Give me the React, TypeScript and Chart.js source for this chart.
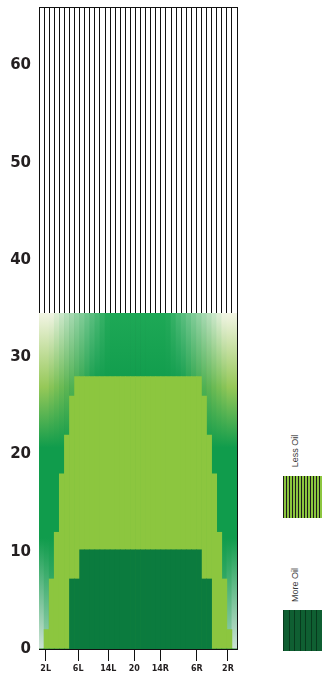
import React, { useEffect, useRef } from 'react';
import { Chart, registerables } from 'chart.js';

Chart.register(...registerables);

// 39 narrow columns across the chart
const columns = [
  '1', '2', '3', '4', '5', '6', '7', '8', '9', '10',
  '11', '12', '13', '14', '15', '16', '17', '18', '19', '20',
  '21', '22', '23', '24', '25', '26', '27', '28', '29', '30',
  '31', '32', '33', '34', '35', '36', '37', '38', '39',
];

// "Less Oil" (light green) heights
const lessOil = [
  0, 2, 7.2, 12, 18, 22, 26,
  28, 28, 28, 28, 28, 28, 28, 28, 28, 28, 28, 28, 28, 28, 28, 28, 28, 28, 28, 28, 28, 28, 28, 28, 28,
  26, 22, 18, 12, 7.2, 2, 0,
];

// "More Oil" (dark green) heights
const moreOil = [
  0, 0, 0, 0, 0, 0, 7.2, 7.2,
  10.2, 10.2, 10.2, 10.2, 10.2, 10.2, 10.2, 10.2, 10.2, 10.2, 10.2, 10.2,
  10.2, 10.2, 10.2, 10.2, 10.2, 10.2, 10.2, 10.2, 10.2, 10.2, 10.2, 10.2,
  7.2, 7.2, 0, 0, 0, 0, 0,
];

// Green oil zone behind the bars
const oilZone = [
  34.5, 34.5, 34.5, 34.5, 34.5, 34.5, 34.5, 34.5, 34.5, 34.5,
  34.5, 34.5, 34.5, 34.5, 34.5, 34.5, 34.5, 34.5, 34.5, 34.5,
  34.5, 34.5, 34.5, 34.5, 34.5, 34.5, 34.5, 34.5, 34.5, 34.5,
  34.5, 34.5, 34.5, 34.5, 34.5, 34.5, 34.5, 34.5, 34.5,
];

// Bottom tick labels and their positions (in column units from the left edge)
const tickLabels = ['2L', '6L', '14L', '20', '14R', '6R', '2R'];
const tickPositions = [1.32, 7.71, 13.64, 18.77, 23.9, 31.1, 37.22];

const yTicks = [0, 10, 20, 30, 40, 50, 60];
const yMax = 66;

const G = [16, 156, 76];
const GTOP = [30, 168, 86];
const TEAL = [205, 226, 214];
const YG = [150, 200, 88];
const CREAM = [242, 245, 228];

function clamp(v: number) {
  return Math.max(0, Math.min(1, v));
}
function mix(a: number[], b: number[], t: number) {
  const c = a.map((v, i) => Math.round(v + (b[i] - v) * t));
  return `rgb(${c[0]},${c[1]},${c[2]})`;
}

function zoneColor(ctx: any) {
  const chart = ctx.chart;
  const ys = chart.scales?.y;
  if (ctx.type !== 'data' || !ys || !chart.chartArea) return mix(G, G, 0);
  const j = ctx.dataIndex;
  const n = chart.data.labels.length;
  const mid = (n - 1) / 2;
  const d = Math.abs(j - mid) / mid;
  const y0 = ys.getPixelForValue(0);
  const y1 = ys.getPixelForValue(oilZone[j]);
  const g = chart.ctx.createLinearGradient(0, y0, 0, y1);
  g.addColorStop(0, mix(G, TEAL, clamp((d - 0.8) / 0.2)));
  g.addColorStop(0.33, mix(G, G, 0));
  g.addColorStop(0.6, mix(G, G, 0));
  g.addColorStop(0.78, mix(G, YG, clamp((d - 0.45) / 0.5)));
  g.addColorStop(1, mix(GTOP, CREAM, clamp((d - 0.3) / 0.6)));
  return g;
}

const FONT = "'DejaVu Sans', 'Liberation Sans', sans-serif";

function OilChart() {
  const ref = useRef<HTMLCanvasElement | null>(null);
  useEffect(() => {
    if (!ref.current) return;
    const chart = new Chart(ref.current, {
      type: 'bar',
      data: {
        labels: columns,
        datasets: [
          { label: 'More Oil', data: moreOil, backgroundColor: '#0b7b3e', order: 1, xAxisID: 'x', yAxisID: 'y' },
          { label: 'Less Oil', data: lessOil, backgroundColor: '#8cc63f', order: 2, xAxisID: 'x', yAxisID: 'y' },
          { label: 'Oil zone', data: oilZone, backgroundColor: zoneColor as any, order: 3, xAxisID: 'x', yAxisID: 'y' },
        ],
      },
      options: {
        responsive: false,
        maintainAspectRatio: false,
        animation: false,
        layout: { padding: { top: 7, bottom: 8, left: 0, right: 8 } },
        datasets: { bar: { barPercentage: 1, categoryPercentage: 1, borderWidth: 0 } } as any,
        plugins: { legend: { display: false }, tooltip: { enabled: false } },
        scales: {
          x: {
            type: 'category',
            position: 'bottom',
            stacked: true,
            z: 1,
            grid: { offset: true, color: '#111', lineWidth: 1, drawTicks: false },
            border: { display: true, color: '#111', width: 1 },
            ticks: { display: false },
          },
          xt: {
            type: 'linear',
            position: 'bottom',
            min: 0,
            max: columns.length,
            offset: false,
            z: 1,
            grid: { offset: false, drawOnChartArea: false, drawTicks: true, tickLength: 12, color: '#111', tickColor: '#111', lineWidth: 1 },
            border: { display: false },
            ticks: {
              autoSkip: false,
              maxRotation: 0,
              padding: 3,
              color: '#231f20',
              font: { family: FONT, size: 8, weight: 'bold' },
              callback: (_v: any, i: number) => tickLabels[i] ?? '',
            },
            afterBuildTicks: (scale: any) => {
              scale.ticks = tickPositions.map((v) => ({ value: v }));
            },
            afterFit: (scale: any) => {
              scale.height = 25;
              scale.paddingLeft = 0;
              scale.paddingRight = 0;
            },
          } as any,
          xtop: {
            type: 'category',
            position: 'top',
            offset: false,
            z: 1,
            grid: { display: false, drawTicks: false, offset: false },
            border: { display: true, color: '#111', width: 1 },
            ticks: { display: false },
            afterFit: (scale: any) => {
              scale.height = 0;
            },
          } as any,
          y: {
            type: 'linear',
            min: 0,
            max: yMax,
            stacked: false,
            z: 1,
            grid: { display: false, drawTicks: false },
            border: { display: true, color: '#111', width: 1 },
            ticks: {
              padding: 8,
              color: '#231f20',
              font: { family: FONT, size: 15, weight: 'bold' },
            },
            afterBuildTicks: (scale: any) => {
              scale.ticks = yTicks.map((v) => ({ value: v }));
            },
            afterFit: (scale: any) => {
              scale.width = 39;
              scale.paddingTop = 0;
              scale.paddingBottom = 0;
            },
          } as any,
        },
      },
    });
    return () => chart.destroy();
  }, []);
  return (
    <canvas
      ref={ref}
      width={245}
      height={682}
      style={{ position: 'absolute', left: 0, top: 0, width: 245, height: 682 }}
    />
  );
}

const legendText: React.CSSProperties = {
  position: 'absolute',
  width: 60,
  height: 12,
  lineHeight: '12px',
  fontSize: 9,
  fontFamily: "'Liberation Sans', Arial, sans-serif",
  color: '#3a3a3a',
  textAlign: 'center',
  transform: 'rotate(-90deg)',
  whiteSpace: 'nowrap',
};

export default function App() {
  return (
    <div style={{ position: 'absolute', left: 0, top: 0, width: 330, height: 682, overflow: 'hidden', background: '#fff' }}>
      <OilChart />
      <div style={{ ...legendText, left: 265, top: 445 }}>Less Oil</div>
      <div
        style={{
          position: 'absolute',
          left: 283,
          top: 476,
          width: 39,
          height: 42,
          background: 'repeating-linear-gradient(90deg, #1b1b1b 0px, #1b1b1b 1px, #8cc63f 1px, #8cc63f 3px)',
        }}
      />
      <div style={{ ...legendText, left: 265, top: 579 }}>More Oil</div>
      <div
        style={{
          position: 'absolute',
          left: 283,
          top: 610,
          width: 39,
          height: 41,
          background: 'repeating-linear-gradient(90deg, #073a1d 0px, #073a1d 1px, #0f5f32 1px, #0f5f32 5.5px)',
        }}
      />
    </div>
  );
}
